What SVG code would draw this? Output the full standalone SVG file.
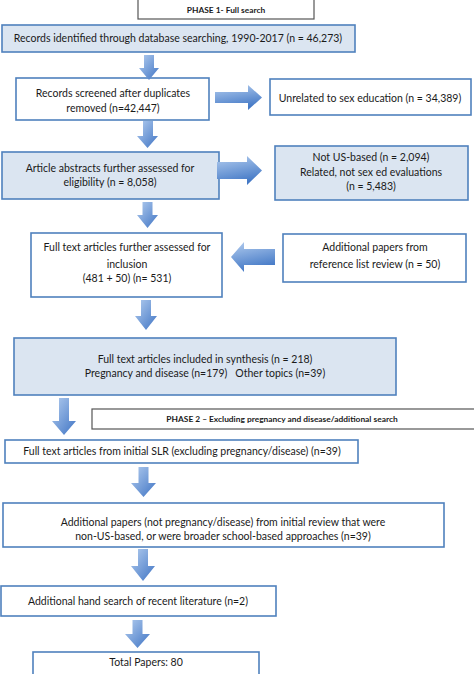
<svg xmlns="http://www.w3.org/2000/svg" width="474" height="674" viewBox="0 0 474 674">
<defs>
<linearGradient id="gd" x1="0" y1="0" x2="1" y2="1">
<stop offset="0" stop-color="#b3cdef"/>
<stop offset="1" stop-color="#3f74c4"/>
</linearGradient>
<linearGradient id="gh" x1="0" y1="0" x2="0.3" y2="1">
<stop offset="0" stop-color="#b3cdef"/>
<stop offset="1" stop-color="#4479c6"/>
</linearGradient>
</defs>
<style>
.b{fill:#ffffff;stroke:#4f81bd;stroke-width:1.6}
.f{fill:#dbe5f1;stroke:#4f81bd;stroke-width:1.6}
.p{fill:#ffffff;stroke:#555555;stroke-width:1.2}
text{font-family:Lato,"Liberation Sans",sans-serif;font-size:10.5px;fill:#1a1a1a;text-anchor:middle}
.h{font-weight:bold;font-size:8.4px}
.ad{fill:url(#gd)}
.ah{fill:url(#gh)}
</style>
<rect width="474" height="674" fill="#ffffff"/>
<g id="phase1"><rect class="p" x="138" y="-5" width="176" height="24"/><text class="h" x="226" y="13">PHASE 1- Full search</text></g>
<g id="n1"><rect class="f" x="2" y="25" width="353" height="27"/><text x="178" y="42">Records identified through database searching, 1990-2017 (n = 46,273)</text></g>
<g id="n2"><rect class="b" x="16" y="78" width="193" height="42"/><text x="113" y="97">Records screened after duplicates</text><text x="113" y="112">removed (n=42,447)</text></g>
<g id="n3"><rect class="b" x="270" y="79" width="201" height="36"/><text x="370" y="102">Unrelated to sex education (n = 34,389)</text></g>
<g id="n4"><rect class="f" x="2" y="152" width="217" height="47"/><text x="110" y="172">Article abstracts further assessed for</text><text x="110" y="186">eligibility (n = 8,058)</text></g>
<g id="n5"><rect class="f" x="275" y="146" width="193" height="54"/><text x="371" y="161">Not US-based (n = 2,094)</text><text x="371" y="176">Related, not sex ed evaluations</text><text x="371" y="190">(n = 5,483)</text></g>
<g id="n6"><rect class="b" x="31" y="233" width="191" height="64"/><text x="127" y="251">Full text articles further assessed for</text><text x="127" y="268">inclusion</text><text x="127" y="282">(481 + 50) (n= 531)</text></g>
<g id="n7"><rect class="b" x="283" y="234" width="183" height="48"/><text x="375" y="251">Additional papers from</text><text x="375" y="268">reference list review (n = 50)</text></g>
<g id="n8"><rect class="f" x="14" y="338" width="382" height="57"/><text x="205" y="363">Full text articles included in synthesis (n = 218)</text><text x="205" y="377" xml:space="preserve">Pregnancy and disease (n=179)   Other topics (n=39)</text></g>
<g id="phase2"><rect class="p" x="92" y="409" width="386" height="20"/><text class="h" x="282" y="422">PHASE 2 – Excluding pregnancy and disease/additional search</text></g>
<g id="n9"><rect class="b" x="5" y="440" width="353" height="23"/><text x="182" y="455">Full text articles from initial SLR (excluding pregnancy/disease) (n=39)</text></g>
<g id="n10"><rect class="b" x="3" y="503" width="441" height="44"/><text x="223" y="526">Additional papers (not pregnancy/disease) from initial review that were</text><text x="223" y="540">non-US-based, or were broader school-based approaches (n=39)</text></g>
<g id="n11"><rect class="b" x="1" y="586" width="275" height="30"/><text x="138" y="605">Additional hand search of recent literature (n=2)</text></g>
<g id="n12"><rect class="b" x="33" y="652" width="226" height="30"/><text x="146" y="666">Total Papers: 80</text></g>
<g id="connectors">
<path class="ad" d="M144,55 H154 V68 H159 L149,80 L139,68 H144 Z"/>
<path class="ad" d="M143,121 H153 V136 H158 L147.5,148 L137,136 H143 Z"/>
<path class="ad" d="M142.5,202 H152.5 V215 H158 L147.5,228 L137,215 H142.5 Z"/>
<path class="ad" d="M141,300 H151 V316 H157 L146,330 L135,316 H141 Z"/>
<path class="ad" d="M59,398 H69 V421 H76 L64,435 L52,421 H59 Z"/>
<path class="ad" d="M138.5,467 H148.5 V483 H156 L143.5,497 L131,483 H138.5 Z"/>
<path class="ad" d="M138,549 H148 V566 H155 L143,581 L131,566 H138 Z"/>
<path class="ad" d="M132.5,620 H142.5 V634 H150 L137.5,648 L125,634 H132.5 Z"/>
<path class="ah" d="M215,92 H248 V85 L262,97.5 L248,110 V103 H215 Z"/>
<path class="ah" d="M217,162 H247 V156 L262,170.5 L247,185 V179 H217 Z"/>
<path class="ah" d="M275,249 H244 V242 L231,257 L244,272 V265 H275 Z"/>
</g>
</svg>
